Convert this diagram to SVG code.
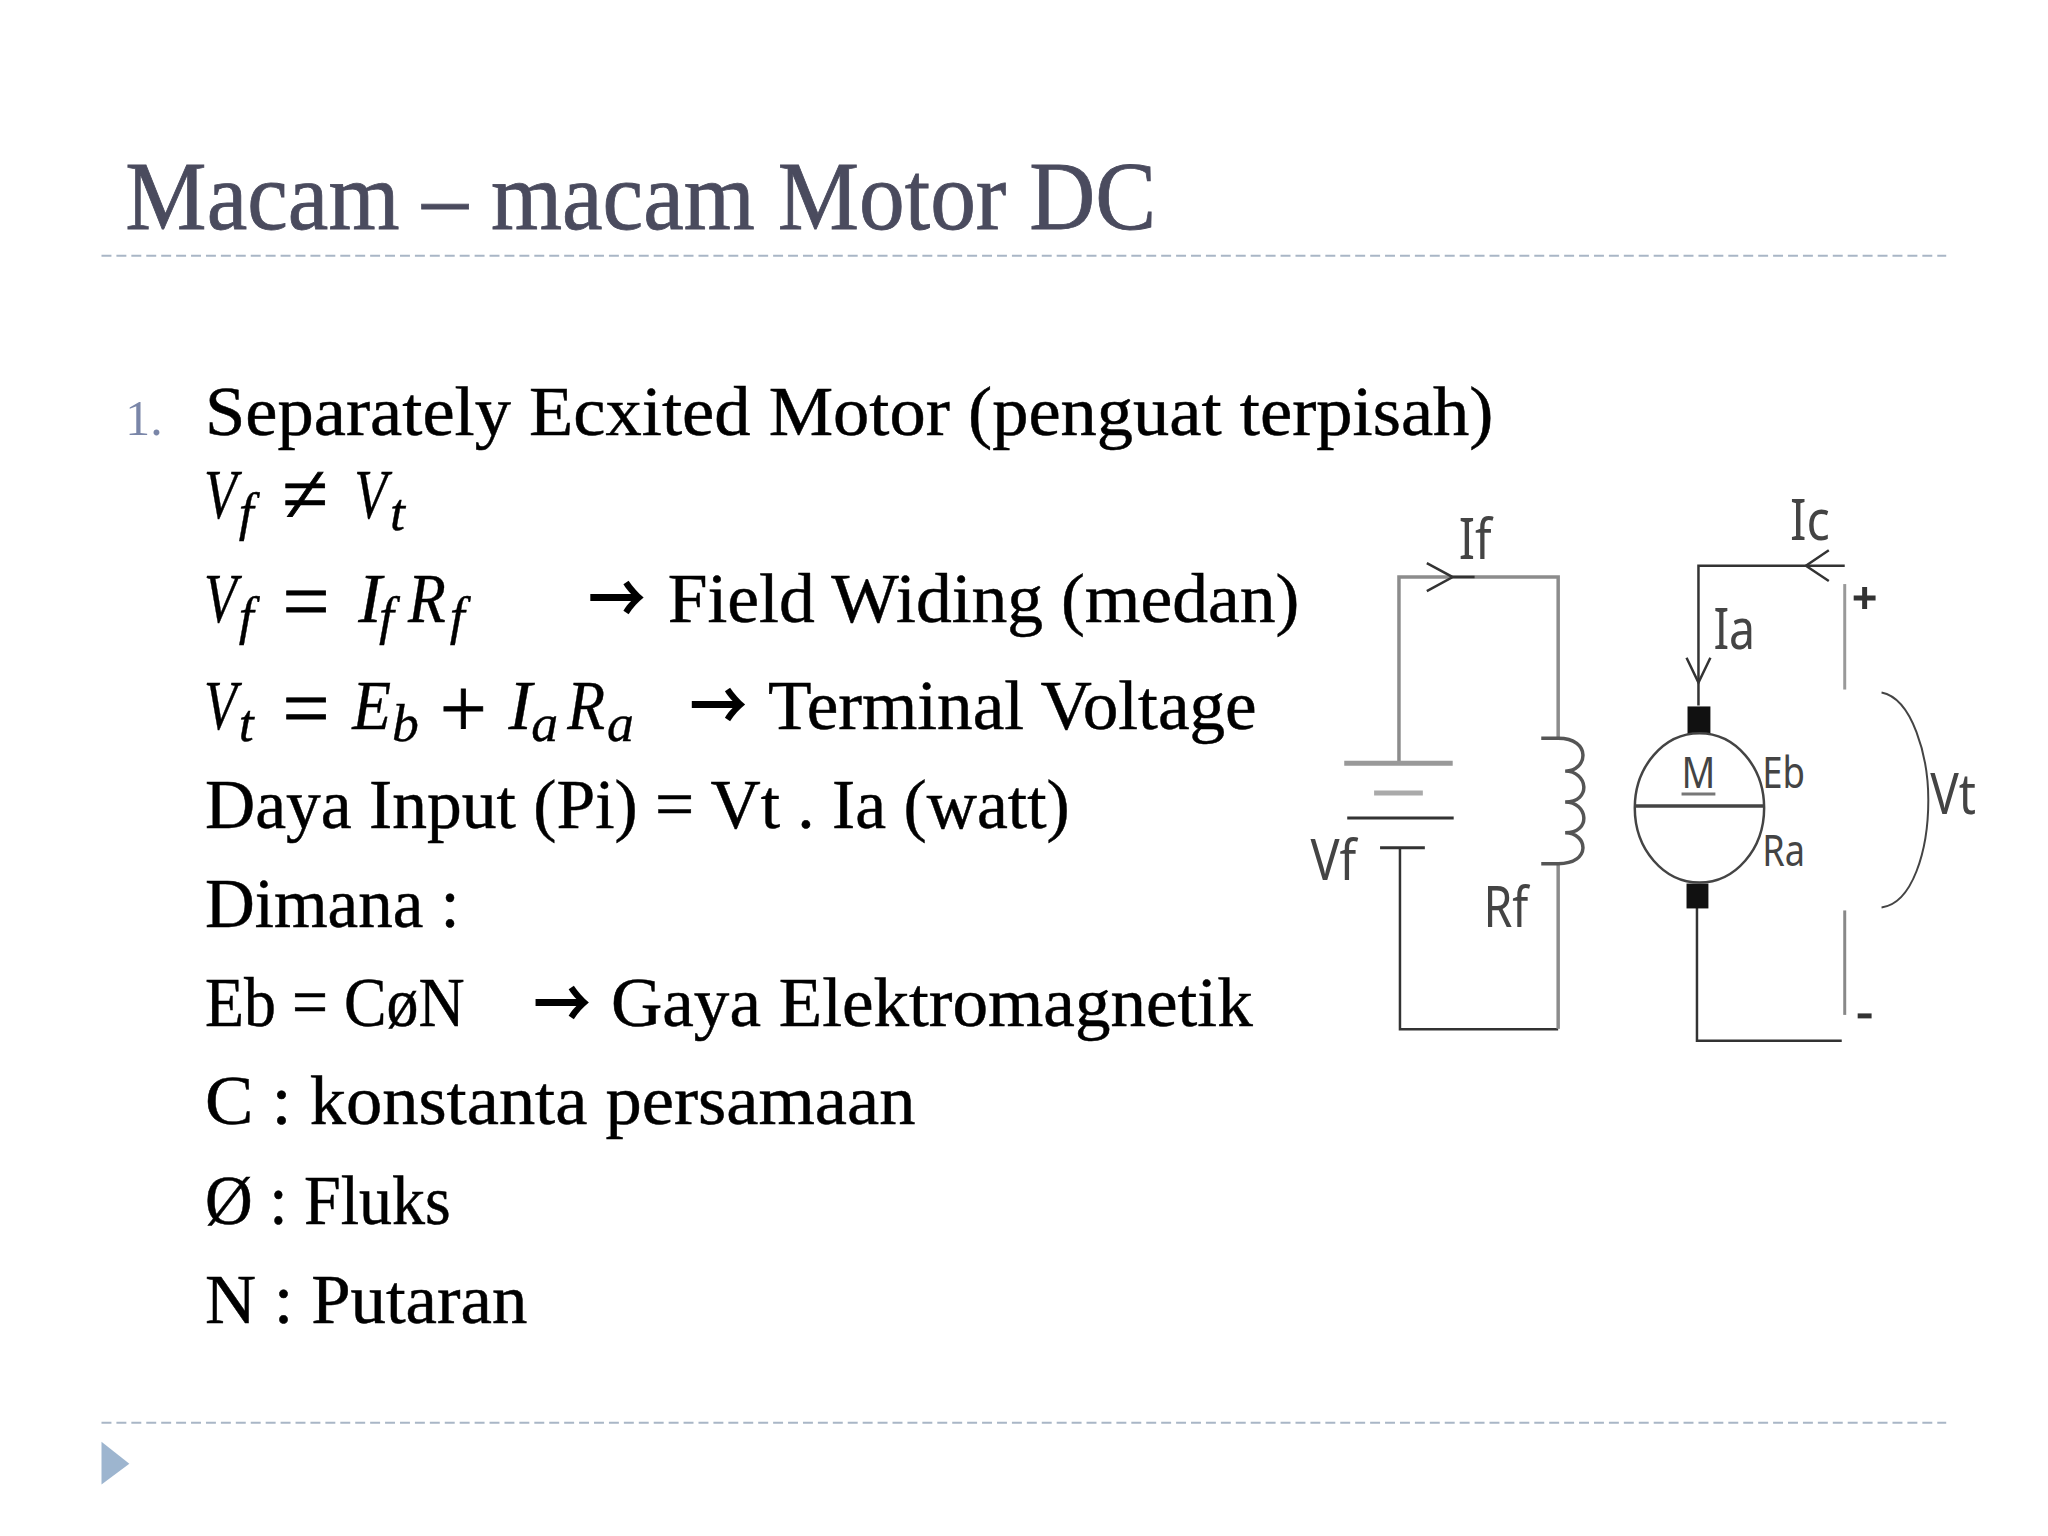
<svg xmlns="http://www.w3.org/2000/svg" width="2048" height="1536" viewBox="0 0 2048 1536">
<style>
text{font-family:"Liberation Serif",serif}
.title{font-size:98px;fill:#4a4b5e;stroke:#4a4b5e;stroke-width:.8}
.b{font-size:71px;fill:#000;stroke:#000;stroke-width:.5}
.i{font-size:71px;fill:#000;font-style:italic;stroke:#000;stroke-width:.4}
.s{font-size:54px;fill:#000;font-style:italic;stroke:#000;stroke-width:.4}
.o{font-size:84px;fill:#000;stroke:#000;stroke-width:.8}
.a{font-size:70px;fill:#000;font-family:"Noto Sans CJK SC",sans-serif;font-weight:bold}
.l{font-family:"Noto Sans",sans-serif;fill:#444;font-size:56px}
.m{font-family:"Noto Sans",sans-serif;fill:#444;font-size:44px}
.g{fill:none;stroke:#8c8c8c;stroke-width:3.5}
.k{fill:none;stroke:#333;stroke-width:2.5}
.rule{stroke:#a9b6c6;stroke-width:2;stroke-dasharray:10 5}
</style>
<rect width="2048" height="1536" fill="#fff"/>
<g id="page" transform="scale(.995)">
<g id="slide">
<text class="title" x="126" y="230" textLength="1036" lengthAdjust="spacingAndGlyphs">Macam – macam Motor DC</text>
<line class="rule" x1="102" y1="257" x2="1956" y2="257"/>
<line class="rule" x1="102" y1="1430" x2="1956" y2="1430"/>
<polygon points="102,1449 130,1471 102,1492" fill="#9db5cf"/>
</g>
<g id="body">
<text x="126" y="437" font-size="50" fill="#7a86a8">1.</text>
<text class="b" x="206" y="437" textLength="1295" lengthAdjust="spacingAndGlyphs">Separately Ecxited Motor (penguat terpisah)</text>
<text class="i" x="205" y="521" textLength="33" lengthAdjust="spacingAndGlyphs">V</text><text class="s" x="240" y="533">f</text><text class="o" x="284" y="525">≠</text><text class="i" x="356" y="521" textLength="33" lengthAdjust="spacingAndGlyphs">V</text><text class="s" x="392" y="533">t</text>
<text class="i" x="205" y="625" textLength="33" lengthAdjust="spacingAndGlyphs">V</text><text class="s" x="240" y="637">f</text><text class="o" x="284" y="633">=</text><text class="i" x="360" y="625">I</text><text class="s" x="381" y="637">f</text><text class="i" x="410" y="625" textLength="38" lengthAdjust="spacingAndGlyphs">R</text><text class="s" x="452" y="637">f</text>
<text class="a" x="591" y="627" textLength="58" lengthAdjust="spacingAndGlyphs">→</text>
<text class="b" x="671" y="625" textLength="635" lengthAdjust="spacingAndGlyphs">Field Widing (medan)</text>
<text class="i" x="205" y="733" textLength="33" lengthAdjust="spacingAndGlyphs">V</text><text class="s" x="240" y="745">t</text><text class="o" x="284" y="741">=</text><text class="i" x="354" y="733" textLength="39" lengthAdjust="spacingAndGlyphs">E</text><text class="s" x="394" y="745">b</text><text class="o" x="442" y="741">+</text><text class="i" x="511" y="733">I</text><text class="s" x="534" y="745">a</text><text class="i" x="570" y="733" textLength="38" lengthAdjust="spacingAndGlyphs">R</text><text class="s" x="610" y="745">a</text>
<text class="a" x="693" y="735" textLength="58" lengthAdjust="spacingAndGlyphs">→</text>
<text class="b" x="772" y="733" textLength="491" lengthAdjust="spacingAndGlyphs">Terminal Voltage</text>
<text class="b" x="206" y="832" textLength="869" lengthAdjust="spacingAndGlyphs">Daya Input (Pi) = Vt . Ia (watt)</text>
<text class="b" x="206" y="932" textLength="256" lengthAdjust="spacingAndGlyphs">Dimana :</text>
<text class="b" x="206" y="1031" textLength="261" lengthAdjust="spacingAndGlyphs">Eb = CøN</text>
<text class="a" x="536" y="1034" textLength="58" lengthAdjust="spacingAndGlyphs">→</text>
<text class="b" x="614" y="1031" textLength="645" lengthAdjust="spacingAndGlyphs">Gaya Elektromagnetik</text>
<text class="b" x="206" y="1130" textLength="714" lengthAdjust="spacingAndGlyphs">C : konstanta persamaan</text>
<text class="b" x="206" y="1230" textLength="247" lengthAdjust="spacingAndGlyphs">Ø : Fluks</text>
<text class="b" x="206" y="1330" textLength="324" lengthAdjust="spacingAndGlyphs">N : Putaran</text>
</g>
<g id="connectors">
<path class="g" d="M1406 767V580H1566V742"/>
<path class="k" d="M1407 852V1034.500H1566"/>
<path class="g" d="M1566 868V1034"/>
<path class="k" d="M1707 709V568.500H1854"/>
<path class="k" d="M1705.500 912V1046H1851"/>
<path class="k" d="M1434 566L1460 580L1434 594M1460 580H1482"/>
<path class="k" d="M1838 553L1815 568.500L1838 584"/>
<path class="k" d="M1695 661L1707 686L1719 661"/>
</g>
<g id="battery">
<line x1="1351" y1="767" x2="1460" y2="767" stroke="#999" stroke-width="5"/>
<line x1="1381" y1="797" x2="1430" y2="797" stroke="#aaa" stroke-width="5"/>
<line x1="1354" y1="822" x2="1461" y2="822" stroke="#333" stroke-width="3"/>
<line x1="1387" y1="852" x2="1432" y2="852" stroke="#333" stroke-width="3"/>
<text class="l" x="1317" y="884" textLength="46" lengthAdjust="spacingAndGlyphs">Vf</text>
</g>
<g id="coil">
<path fill="none" stroke="#555" stroke-width="3.500" d="M1549 742H1566C1600 742 1596 775 1573 775C1596 775 1600 806 1573 806C1596 806 1600 837 1573 837C1596 837 1600 868 1566 868H1549"/>
<text class="l" x="1491" y="932" textLength="45" lengthAdjust="spacingAndGlyphs">Rf</text>
</g>
<g id="motor">
<rect x="1696" y="710" width="23" height="28" fill="#111"/>
<rect x="1695" y="888" width="22" height="25" fill="#111"/>
<ellipse cx="1708" cy="812" rx="65" ry="75" fill="#fff" stroke="#444" stroke-width="2.500"/>
<line x1="1643" y1="810" x2="1773" y2="810" stroke="#444" stroke-width="3.500"/>
<text class="m" x="1707" y="792" text-anchor="middle" textLength="34" lengthAdjust="spacingAndGlyphs">M</text>
<line x1="1690" y1="798" x2="1724" y2="798" stroke="#777" stroke-width="3"/>
<text class="m" x="1771" y="792" textLength="43" lengthAdjust="spacingAndGlyphs">Eb</text>
<text class="m" x="1771" y="870" textLength="43" lengthAdjust="spacingAndGlyphs">Ra</text>
<text class="l" x="1466" y="562" textLength="33" lengthAdjust="spacingAndGlyphs">If</text>
<text class="l" x="1799" y="543" textLength="40" lengthAdjust="spacingAndGlyphs">Ic</text>
<text class="l" x="1722" y="652" textLength="42" lengthAdjust="spacingAndGlyphs">Ia</text>
</g>
<g id="terminals">
<line x1="1854" y1="587" x2="1854" y2="693" stroke="#999" stroke-width="3"/>
<line x1="1854" y1="915" x2="1854" y2="1020" stroke="#888" stroke-width="3"/>
<path d="M1863 601H1885M1874 590V612" stroke="#333" stroke-width="5" fill="none"/>
<path d="M1867 1021H1881" stroke="#333" stroke-width="5" fill="none"/>
<path d="M1891 696C1922 702 1938 760 1938 804C1938 855 1922 908 1891 912" fill="none" stroke="#444" stroke-width="2"/>
<text class="l" x="1940" y="818" textLength="46" lengthAdjust="spacingAndGlyphs">Vt</text>
</g>
</g>
</svg>
